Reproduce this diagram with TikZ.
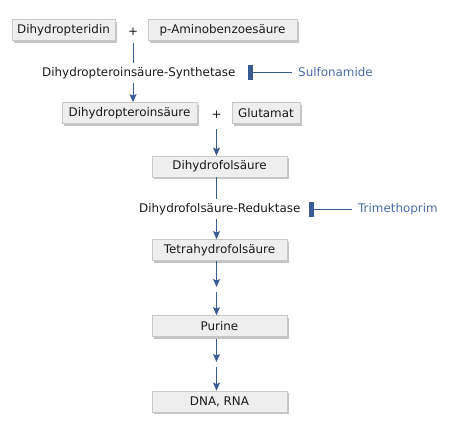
\documentclass[tikz,border=0pt]{standalone}
\usepackage{fontspec}
\setmainfont{DejaVu Sans}
\usetikzlibrary{arrows.meta,shadows}
\definecolor{boxfill}{HTML}{EEEEEE}
\definecolor{boxdraw}{HTML}{C8C8C8}
\definecolor{shadowc}{HTML}{C4C4C4}
\definecolor{flow}{HTML}{3A5A94}
\definecolor{drug}{HTML}{4A6CA8}
\definecolor{txt}{HTML}{1A1A1A}
\begin{document}
\begin{tikzpicture}[x=1pt,y=-1pt,
  every node/.style={font=\fontsize{11.9}{14}\selectfont, text=txt},
  sbox/.style={draw=boxdraw, fill=boxfill, minimum height=21pt, inner sep=0pt,
    line width=0.8pt, drop shadow={shadow xshift=2pt, shadow yshift=-2pt, fill=shadowc, opacity=1}},
  plussign/.style={inner sep=0pt, minimum height=22pt},
  enz/.style={inner xsep=0pt, inner ysep=0pt, minimum height=20pt},
  drugname/.style={inner xsep=6pt, inner ysep=0pt, text=drug},
  inhib/.style={fill=flow, inner sep=0pt, minimum width=5pt, minimum height=15pt},
  flowline/.style={draw=flow, line width=1pt},
  flowarrow/.style={flowline, -{Stealth[length=8pt,width=7pt,inset=1.5pt]}}
]
\useasboundingbox (0,0) rectangle (452,434);

% boxes
\node[sbox, minimum width=103pt] (b1) at (63.5,30) {Dihydropteridin};
\node[sbox, minimum width=149pt] (b2) at (222.5,30) {p-Aminobenzoesäure};
\node[sbox, minimum width=135pt] (b3) at (129.5,113) {Dihydropteroinsäure};
\node[sbox, minimum width=68pt] (b4) at (266,113) {Glutamat};
\node[sbox, minimum width=135pt] (b5) at (219.5,166.5) {Dihydrofolsäure};
\node[sbox, minimum width=135pt] (b6) at (219.5,250) {Tetrahydrofolsäure};
\node[sbox, minimum width=135pt] (b7) at (219.5,326) {Purine};
\node[sbox, minimum width=135pt] (b8) at (219.5,401.5) {DNA, RNA};

% plus signs
\node[plussign] (p1) at (133,32) {+};
\node[plussign] (p2) at (216.5,115) {+};

% enzymes
\node[enz, anchor=west] (e1) at (42,73) {Dihydropteroinsäure-Synthetase};
\node[enz, anchor=west] (e2) at (139,209) {Dihydrofolsäure-Reduktase};

% inhibitors
\node[inhib] (i1) at (250.5,72) {};
\node[drugname, anchor=west] (d1) at (292,72) {Sulfonamide};
\node[inhib] (i2) at (311,209) {};
\node[drugname, anchor=west] (d2) at (352,209) {Trimethoprim};

\coordinate (m1) at (216.5,289.5);
\coordinate (m2) at (216.5,364.5);

% connectors
\draw[flowline] (p1.south) -- (p1 |- e1.north);
\draw[flowarrow] (p1 |- e1.south) -- (p1 |- b3.north);
\draw[flowarrow] (p2.south) ++(0,3) -- (p2 |- b5.north);
\draw[flowline] (p2 |- b5.south) -- (p2 |- e2.north);
\draw[flowarrow] (p2 |- e2.south) -- (p2 |- b6.north);
\draw[flowarrow, shorten >=2.5pt] (p2 |- b6.south) -- (m1);
\draw[flowarrow, shorten <=2.5pt] (m1) -- (p2 |- b7.north);
\draw[flowarrow, shorten <=2pt, shorten >=2.5pt] (p2 |- b7.south) -- (m2);
\draw[flowarrow, shorten <=2.5pt] (m2) -- (p2 |- b8.north);
\draw[flowline] (i1.east) -- (d1.west);
\draw[flowline] (i2.east) -- (d2.west);
\end{tikzpicture}
\end{document}
